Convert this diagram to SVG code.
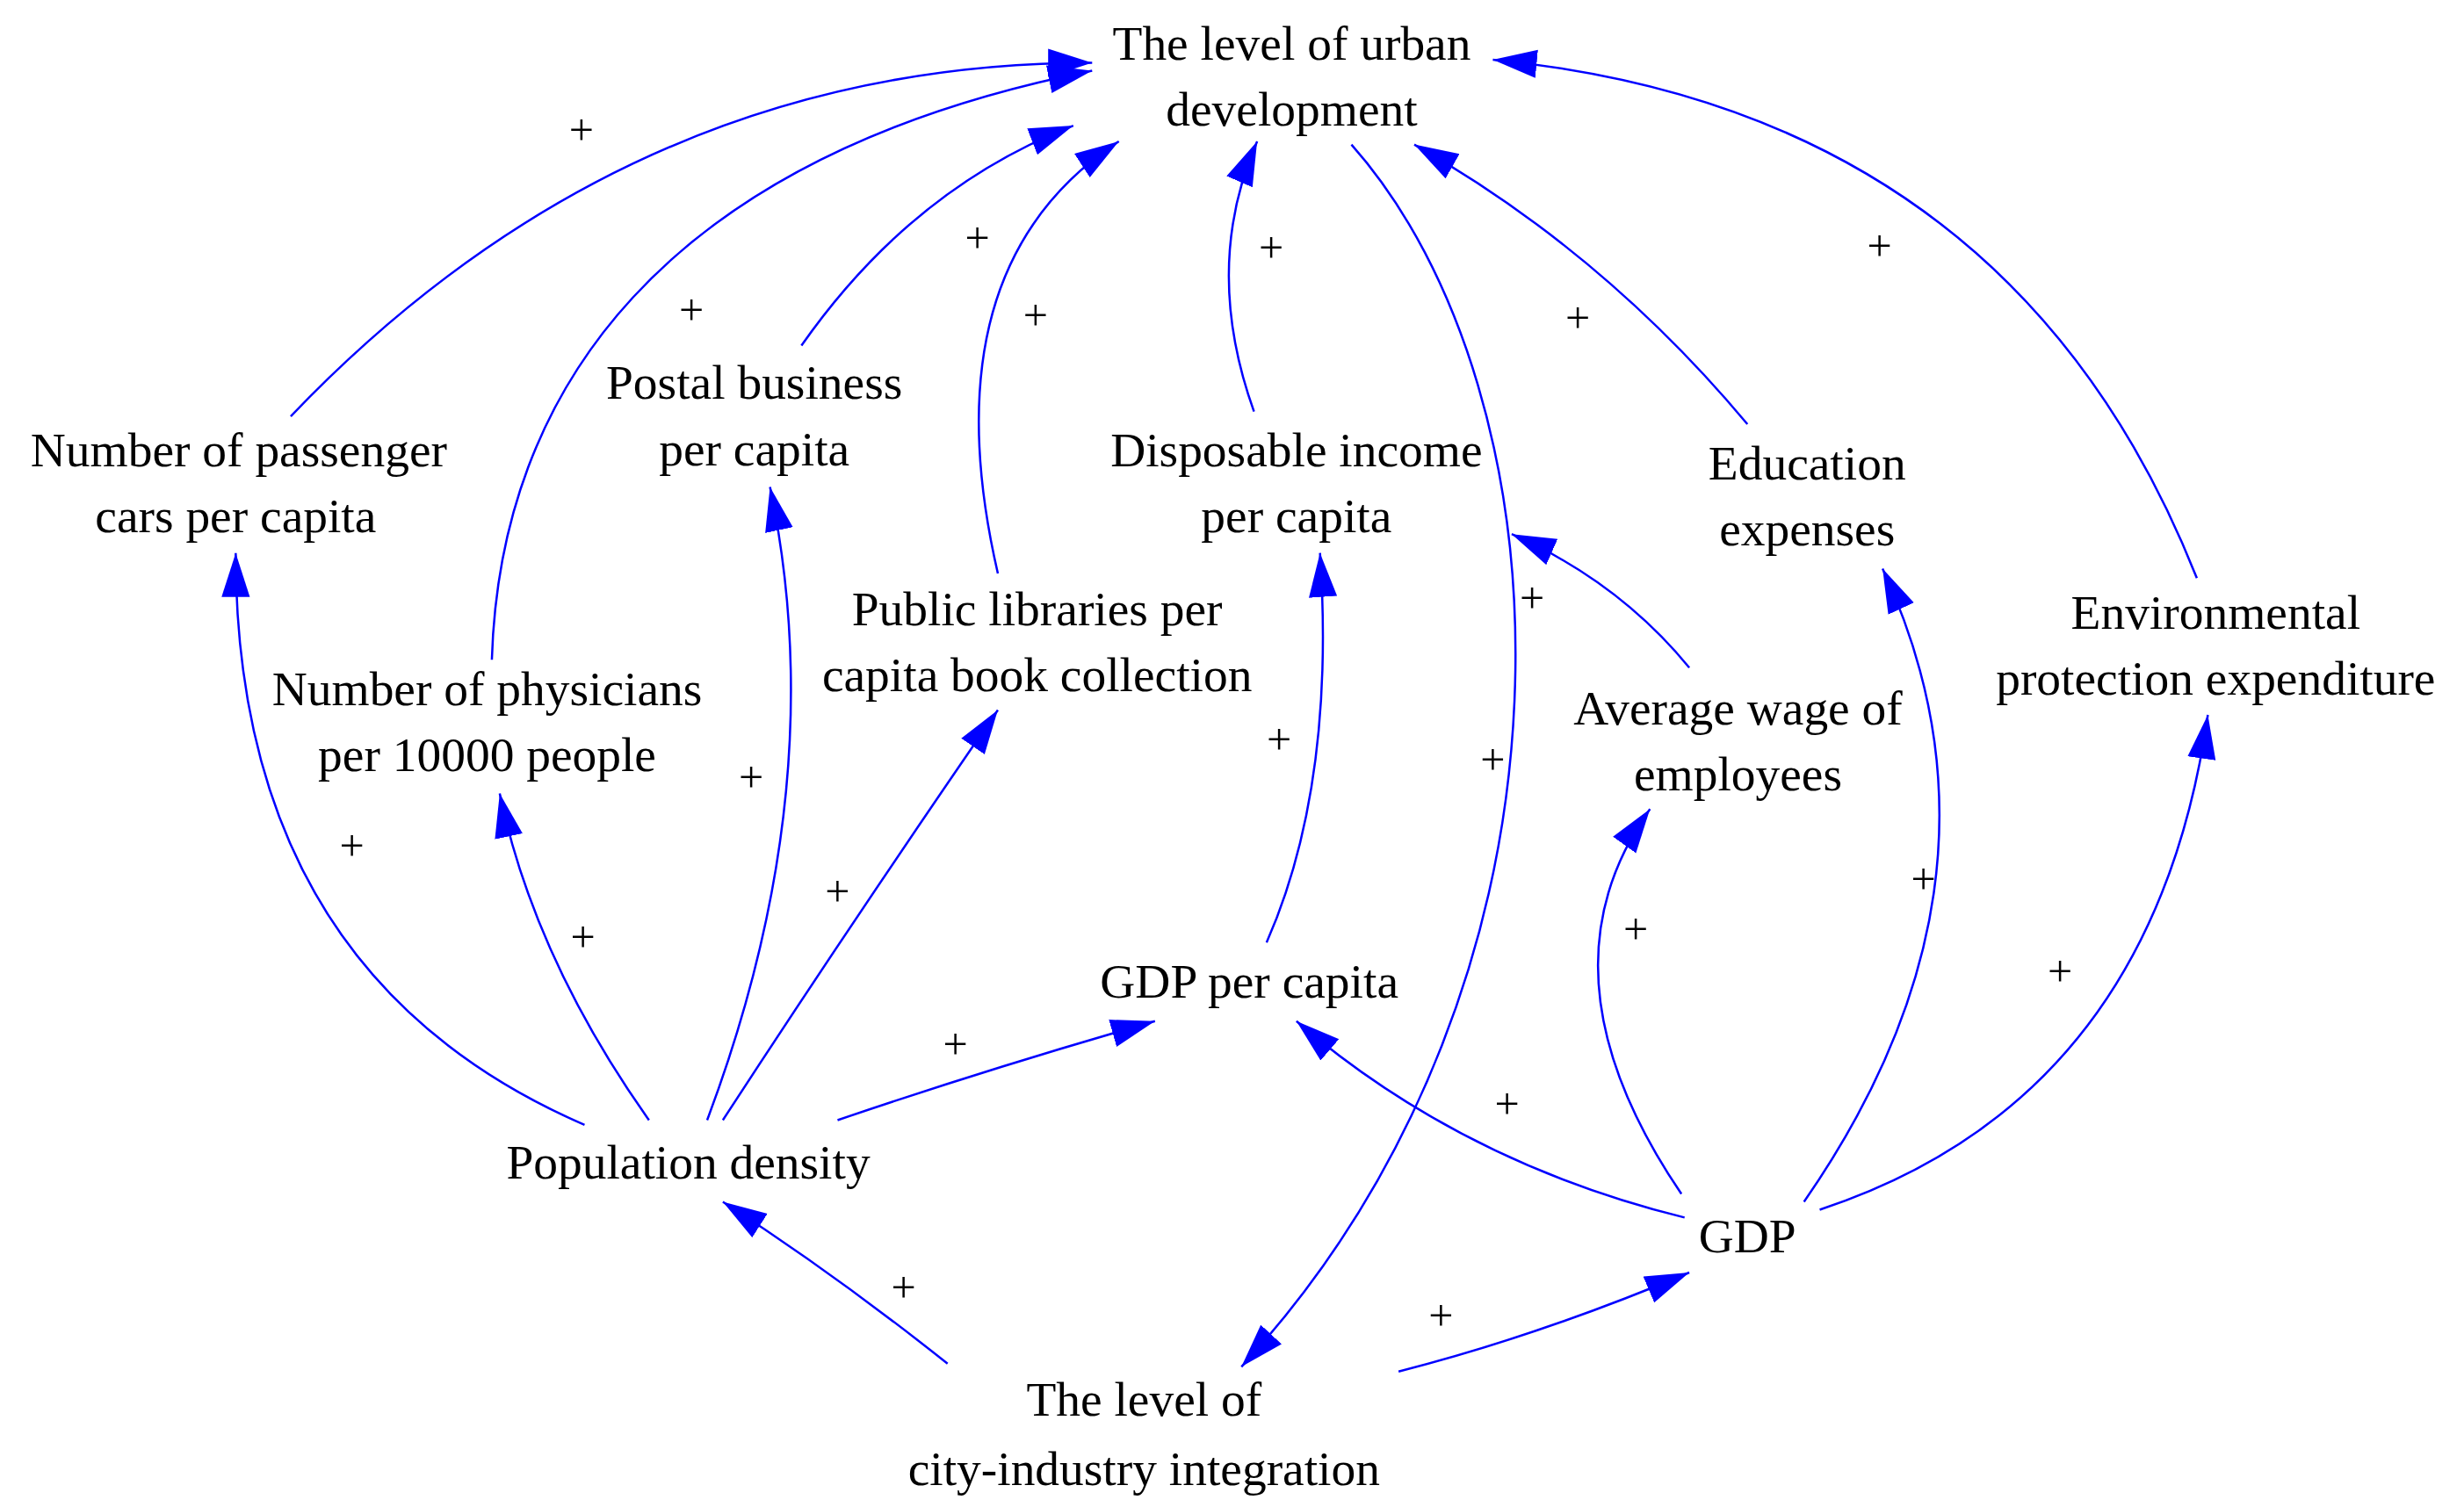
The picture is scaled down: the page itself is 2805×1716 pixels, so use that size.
<svg xmlns="http://www.w3.org/2000/svg" width="2805" height="1716" viewBox="0 0 2805 1716">
<style>
text{font-family:"Liberation Serif","Times New Roman",serif;font-size:31px;fill:#000;text-anchor:middle}
.p{font-size:28px}
.c path{fill:none;stroke:#0000ff;stroke-width:1.4;marker-end:url(#a)}
</style>
<defs>
<marker id="a" markerUnits="userSpaceOnUse" markerWidth="30" markerHeight="20" refX="28" refY="9" orient="auto"><path d="M0,0 L28,9 L0,18 Z" fill="#0000ff"/></marker>
</defs>
<rect width="2805" height="1716" fill="#fff"/>
<g transform="scale(1.7889)">
<g id="urban"><text x="822" y="38">The level of urban</text><text x="822" y="80">development</text></g>
<g id="passenger"><text x="152" y="297">Number of passenger</text><text x="150" y="339">cars per capita</text></g>
<g id="postal"><text x="480" y="254">Postal business</text><text x="480" y="296">per capita</text></g>
<g id="disposable"><text x="825" y="297">Disposable income</text><text x="825" y="339">per capita</text></g>
<g id="education"><text x="1150" y="305">Education</text><text x="1150" y="347">expenses</text></g>
<g id="environmental"><text x="1410" y="400">Environmental</text><text x="1410" y="442">protection expenditure</text></g>
<g id="libraries"><text x="660" y="398">Public libraries per</text><text x="660" y="440">capita book collection</text></g>
<g id="physicians"><text x="310" y="449">Number of physicians</text><text x="310" y="491">per 10000 people</text></g>
<g id="wage"><text x="1106" y="461">Average wage of</text><text x="1106" y="503">employees</text></g>
<g id="gdppc"><text x="795" y="635">GDP per capita</text></g>
<g id="popdensity"><text x="438" y="750">Population density</text></g>
<g id="gdp"><text x="1112" y="797">GDP</text></g>
<g id="cityindustry"><text x="728" y="901">The level of</text><text x="728" y="945">city-industry integration</text></g>
<g id="connectors" class="c">
<path d="M185,265 Q400,40 695,40"/>
<path d="M313,420 C318,250 420,100 695,45"/>
<path d="M510,220 Q580,120 683,80"/>
<path d="M635,365 Q590,170 712,90"/>
<path d="M798,262 Q765,170 800,90"/>
<path d="M860,92 C1000,250 1020,620 790,870"/>
<path d="M1112,270 Q1020,160 900,92"/>
<path d="M1398,368 Q1280,70 950,38"/>
<path d="M1075,425 Q1030,370 962,340"/>
<path d="M372,716 Q150,620 150,352"/>
<path d="M413,713 Q340,610 318,505"/>
<path d="M450,713 Q530,500 490,310"/>
<path d="M460,713 Q540,590 635,452"/>
<path d="M533,713 Q630,680 735,650"/>
<path d="M806,600 Q850,500 840,352"/>
<path d="M1072,775 Q930,740 825,650"/>
<path d="M1070,760 Q975,620 1050,515"/>
<path d="M1148,765 Q1290,560 1198,362"/>
<path d="M1158,770 Q1370,700 1405,455"/>
<path d="M603,868 Q530,810 460,765"/>
<path d="M890,873 Q980,850 1075,810"/>
</g>
<g id="polarities" class="p">
<text class="p" x="370" y="92">+</text><text class="p" x="440" y="207">+</text><text class="p" x="622" y="161">+</text><text class="p" x="659" y="210">+</text><text class="p" x="809" y="167">+</text><text class="p" x="1004" y="212">+</text><text class="p" x="1196" y="166">+</text><text class="p" x="975" y="390">+</text><text class="p" x="224" y="548">+</text><text class="p" x="371" y="606">+</text><text class="p" x="478" y="504">+</text><text class="p" x="533" y="577">+</text><text class="p" x="814" y="480">+</text><text class="p" x="950" y="493">+</text><text class="p" x="608" y="674">+</text><text class="p" x="959" y="712">+</text><text class="p" x="1041" y="601">+</text><text class="p" x="1224" y="569">+</text><text class="p" x="1311" y="628">+</text><text class="p" x="575" y="829">+</text><text class="p" x="917" y="847">+</text>
</g>
</g>
</svg>
